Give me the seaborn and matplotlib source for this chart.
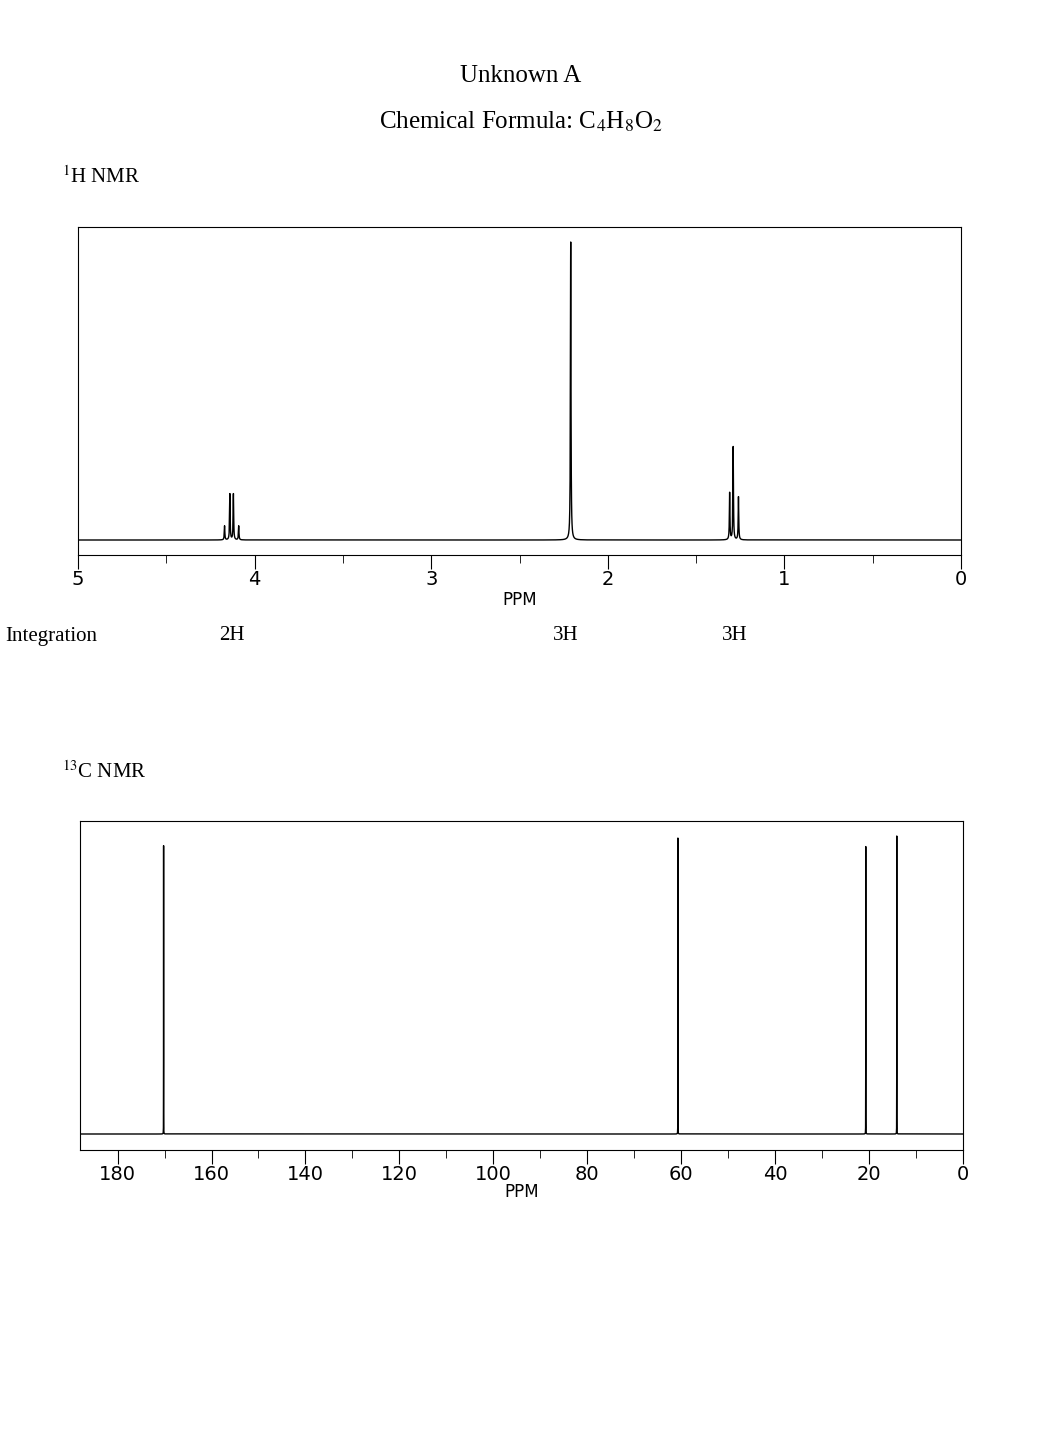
import numpy as np
import pandas as pd
import matplotlib
matplotlib.use("Agg")
import matplotlib.pyplot as plt
import seaborn as sns

sns.set_style("ticks")
plt.rcParams['font.family'] = ['DejaVu Sans']
plt.rcParams['mathtext.fontset'] = 'stix'
plt.rcParams['text.color'] = 'black'
plt.rcParams['axes.labelcolor'] = 'black'
plt.rcParams['xtick.color'] = 'black'

# 1H NMR peaks (ppm, relative height)
h_ppm = [4.17, 4.14, 4.12, 4.09, 2.21, 1.31, 1.29, 1.26]
h_height = [14, 46, 46, 14, 298, 47, 93, 43]
h_integration = ["2H", "3H", "3H"]
h_integ_pos = [4.13, 2.24, 1.28]

# 13C NMR peaks (ppm)
c_ppm = [170.2, 60.7, 20.7, 14.1]
c_height = [298, 298, 298, 298]

fig = plt.figure(figsize=(10.42, 14.47), dpi=100)
serif = ['Liberation Serif', 'DejaVu Serif']

fig.text(0.5, 1 - 76/1447, "Unknown A", ha='center', va='center', fontsize=18, family=serif)
fig.text(0.5, 1 - 122/1447, r"Chemical Formula: C$_4$H$_8$O$_2$", ha='center', va='center', fontsize=18, family=serif)
fig.text(62/1042, 1 - 177/1447, r"$^{1}$H NMR", ha='left', va='center', fontsize=15, family=serif)
fig.text(62/1042, 1 - 772/1447, r"$^{13}$C NMR", ha='left', va='center', fontsize=15, family=serif)
fig.text(5/1042, 1 - 636/1447, "Integration", ha='left', va='center', fontsize=15, family=serif)

# 1H spectrum
ax1 = fig.add_axes([78/1042, 1 - 555/1447, 883/1042, 328/1447])
x = np.linspace(0, 5, 40001)
w = 0.0018
y = np.zeros_like(x)
for p, hgt in zip(h_ppm, h_height):
    y += hgt / (1 + ((x - p) / w) ** 2)
sns.lineplot(x=x, y=y, ax=ax1, color='black', lw=1)
ax1.set_xlim(5, 0)
ax1.set_ylim(-15, 313)
ax1.set_yticks([])
ax1.set_xticks([5, 4, 3, 2, 1, 0])
ax1.set_xticklabels(['5', '4', '3', '2', '1', '0'])
ax1.set_xticks(np.arange(0.5, 5, 1), minor=True)
ax1.tick_params(axis='x', which='major', direction='out', length=10, labelsize=14, pad=1)
ax1.tick_params(axis='x', which='minor', direction='out', length=6)
ax1.set_xlabel("PPM", fontsize=12, labelpad=1)
for s in ax1.spines.values():
    s.set_color('black'); s.set_linewidth(0.8)

for lab, p in zip(h_integration, h_integ_pos):
    ax1.annotate(lab, xy=(p, 1 - 636/1447), xycoords=('data', 'figure fraction'),
                 ha='center', va='center', fontsize=15, family=serif)

# 13C spectrum
ax2 = fig.add_axes([80/1042, 1 - 1150/1447, 883/1042, 329/1447])
xc = np.linspace(0, 188, 80001)
wc = 0.006
yc = np.zeros_like(xc)
for p, hgt in zip(c_ppm, c_height):
    yc += hgt / (1 + ((xc - p) / wc) ** 2)
sns.lineplot(x=xc, y=yc, ax=ax2, color='black', lw=1)
ax2.set_xlim(188, 0)
ax2.set_ylim(-16, 313)
ax2.set_yticks([])
ax2.set_xticks(np.arange(0, 181, 20))
ax2.set_xticks(np.arange(10, 190, 20), minor=True)
ax2.tick_params(axis='x', which='major', direction='out', length=10, labelsize=14, pad=1)
ax2.tick_params(axis='x', which='minor', direction='out', length=6)
ax2.set_xlabel("PPM", fontsize=12, labelpad=-1)
for s in ax2.spines.values():
    s.set_color('black'); s.set_linewidth(0.8)

fig.savefig("out.png", dpi=100)
